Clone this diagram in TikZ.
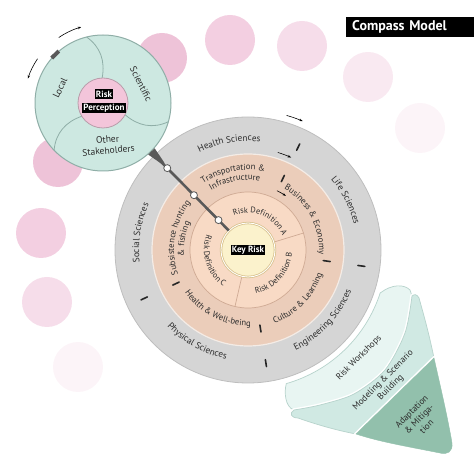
\documentclass[tikz,border=0pt]{standalone}
\usepackage{fontspec}
\setmainfont{PT Sans}
\setsansfont{PT Sans}
\usetikzlibrary{calc,arrows.meta,decorations.text}

\definecolor{pinkA}{HTML}{EEC3D8}
\definecolor{pinkB}{HTML}{F3CFE1}
\definecolor{pinkC}{HTML}{F6DDEA}
\definecolor{pinkD}{HTML}{F9E9F1}
\definecolor{pinkE}{HTML}{FCF4F8}
\definecolor{ringgray}{HTML}{D5D5D5}
\definecolor{ringedge}{HTML}{BEBEBE}
\definecolor{tanring}{HTML}{EBCDBA}
\definecolor{tanedge}{HTML}{F4ECE6}
\definecolor{innerring}{HTML}{F8DAC5}
\definecolor{inneredge}{HTML}{CFAA94}
\definecolor{keyfill}{HTML}{FBF2CC}
\definecolor{keyedge}{HTML}{D8C28E}
\definecolor{tealfill}{HTML}{CDE8E1}
\definecolor{tealedge}{HTML}{8FAEA7}
\definecolor{pinkin}{HTML}{F3C5DA}
\definecolor{pinkedge}{HTML}{B89DAA}
\definecolor{needlegray}{HTML}{595959}
\definecolor{labelgray}{HTML}{2C2C2C}
\definecolor{funnelA}{HTML}{E8F5F2}
\definecolor{funnelB}{HTML}{D0E9E3}
\definecolor{funnelC}{HTML}{92C0AC}
\definecolor{funneledge}{HTML}{B7D3CC}

\newcommand{\grayfont}{\fontsize{9.2}{10}\selectfont\color{labelgray}}
\newcommand{\tanfont}{\fontsize{8.7}{10}\selectfont\color{labelgray}}
\newcommand{\innerfont}{\fontsize{8.2}{9}\selectfont\color{labelgray}}
% ring text: #1 angle, #2 baseline radius, #3 half span, #4 font, #5 text
\newcommand{\ringtextout}[5]{\path[decorate,decoration={text along path,text align=center,text={|#4|#5}}]
  ($(kc)+(#1+#3:#2)$) arc[start angle=#1+#3,end angle=#1-#3,radius=#2];}
\newcommand{\ringtextin}[5]{\path[decorate,decoration={text along path,text align=center,text={|#4|#5}}]
  ($(kc)+(#1-#3:#2)$) arc[start angle=#1-#3,end angle=#1+#3,radius=#2];}

\begin{document}
\begin{tikzpicture}[x=1pt,y=1pt,
  bgdisc/.style={circle,inner sep=0pt,minimum size=50pt,fill=#1},
  blacklabel/.style={fill=black,text=white,inner sep=1.3pt,font=\bfseries\fontsize{9}{10}\selectfont},
  petaltext/.style={text=labelgray,font=\fontsize{9.5}{11}\selectfont,inner sep=0pt},
  petal/.style={draw=tealedge,line width=.8pt},
  ringtick/.style={line width=1.6pt,line cap=round,black!85},
  divline/.style={draw=inneredge,line width=.7pt},
  smallarrow/.style={line width=.6pt,-{Stealth[length=3.5pt,width=2.5pt]}},
  needle/.style={draw=needlegray,line width=2.6pt},
  needledot/.style={circle,fill=white,draw=needlegray,line width=.8pt,inner sep=0pt,minimum size=7pt},
  funneltext/.style={text=labelgray,font=\fontsize{9}{10.5}\selectfont,align=center,rotate=45,inner sep=0pt}]
\useasboundingbox (0,0) rectangle (474,474);

% background discs
\node[bgdisc=pinkA] (disc1) at (162,416) {};
\node[bgdisc=pinkA] (disc2) at (58,312) {};
\node[bgdisc=pinkB] (disc3) at (230,434) {};
\node[bgdisc=pinkC] (disc4) at (302,428) {};
\node[bgdisc=pinkD] (disc5) at (368,397) {};
\node[bgdisc=pinkE] (disc6) at (420,346) {};
\node[bgdisc=pinkB] (disc7) at (41,241) {};
\node[bgdisc=pinkC] (disc8) at (47,172) {};
\node[bgdisc=pinkE] (disc9) at (78,107) {};

\node[fill=black,text=white,font=\bfseries\fontsize{14}{16}\selectfont,anchor=north west,
  text width=116pt,inner xsep=6pt,minimum height=20pt] (title) at (346,457) {Compass Model};

% compass rings
\coordinate (kc) at (248,224);
\filldraw[fill=ringgray,draw=ringedge,line width=.8pt] (kc) circle (133);
\filldraw[fill=tanring,draw=tanedge,line width=1.2pt] (kc) circle (96);
\filldraw[fill=innerring,draw=inneredge,line width=.7pt] (kc) circle (58);
\node[circle,minimum size=54pt,fill=keyfill,draw=keyedge,line width=.8pt,
  double=white,double distance=.8pt] (keyrisk) at (kc) {};
\foreach \a in {17,257,134.6}
  \draw[divline] ($(kc)+(\a:28)$) -- ($(kc)+(\a:58)$);
\foreach \a in {64,-8,-81,205} {
  \draw[ringtick] ($(kc)+(\a:111)$) -- ($(kc)+(\a:118)$);
  \draw[ringtick] ($(kc)+(\a:76)$) -- ($(kc)+(\a:83)$);
}

\ringtextout{100}{109}{60}{\grayfont}{Health Sciences}
\ringtextout{27}{109}{60}{\grayfont}{Life Sciences}
\ringtextout{171}{109}{60}{\grayfont}{Social Sciences}
\ringtextin{-43}{111}{60}{\grayfont}{Engineering Sciences}
\ringtextin{-119}{111}{60}{\grayfont}{Physical Sciences}
\ringtextout{101}{80}{60}{\tanfont}{Transportation {\&}}
\ringtextout{101}{70}{60}{\tanfont}{Infrastructure}
\ringtextout{28}{71}{60}{\tanfont}{Business {\&} Economy}
\ringtextin{-44}{78}{60}{\tanfont}{Culture {\&} Learning}
\ringtextin{-117}{76}{60}{\tanfont}{Health {\&} Well-being}
\ringtextout{170}{74}{60}{\tanfont}{Subsistence hunting}
\ringtextout{170}{64}{60}{\tanfont}{{\&} fishing}
\ringtextout{67}{37}{80}{\innerfont}{Risk Definition A}
\ringtextin{-42}{44}{80}{\innerfont}{Risk Definition B}
\ringtextin{198}{44}{80}{\innerfont}{Risk Definition C}

\draw[smallarrow] ($(kc)+(74:140)$) arc[start angle=74,end angle=67,radius=140];
\draw[smallarrow] ($(kc)+(73:102)$) arc[start angle=73,end angle=65,radius=102];
\draw[smallarrow] ($(kc)+(64:66)$) arc[start angle=64,end angle=55,radius=66];

% risk perception circle
\node[circle,minimum size=136pt,fill=tealfill,draw=tealedge,line width=1pt] (perc) at (103,371) {};
\foreach \t [evaluate=\t as \tout using \t-139, evaluate=\t as \tin using \t-25,
             evaluate=\t as \tend using \t-12] in {104,-16,224}
  \draw[petal] ($(perc)+(\t:68)$) to[out=\tout,in=\tin] ($(perc)+(\tend:25)$);
\node[circle,minimum size=50pt,fill=pinkin,draw=pinkedge,line width=.8pt] (riskp) at (perc) {};
\node[blacklabel] (risklbl) at (104,380) {Risk};
\node[blacklabel] (perclbl) at (104,366) {Perception};
\node[petaltext,rotate=65] (local) at (60,386) {Local};
\node[petaltext,rotate=-63] (scientific) at (141,390) {Scientific};
\node[petaltext,rotate=5,align=center] (other) at (108,329) {Other\\Stakeholders};
\draw[smallarrow] ($(perc)+(124:79)$) arc[start angle=124,end angle=106,radius=79];
\draw[smallarrow] ($(perc)+(146:79)$) arc[start angle=146,end angle=162,radius=79];
\node[fill=needlegray,minimum width=10pt,minimum height=4pt,inner sep=0pt,rotate=44.6] (grip)
  at ($(perc)+(134.6:68)$) {};

% needle
\coordinate (nb) at (perc.-45.4);
\fill[needlegray] ($(nb)+(44.6:4.5)$) -- ($(nb)+(-135.4:4.5)$) -- ($(nb)+(-45.4:17)+(-135.4:1.3)$)
  -- ($(nb)+(-45.4:17)+(44.6:1.3)$) -- cycle;
\draw[needle] (perc) -- (keyrisk);
\foreach \r in {115,77,42}
  \node[needledot] (dot\r) at ($(kc)+(134.6:\r)$) {};
\node[blacklabel] (keylbl) at (kc) {Key Risk};

% funnel
\filldraw[fill=funnelA,draw=funneledge,line width=.7pt,preaction={draw=white,line width=3.5pt}]
  ($(kc)+(-74:139)$) arc[start angle=-74,end angle=-18,radius=139]
  .. controls (392,190) and (404,190) .. (410,184) -- (412,178)
  -- plot[smooth] coordinates {(412,178) (405,141) (385,104) (354,80) (320,69) (294,64)}
  .. controls (285,67) and (284,82) .. ($(kc)+(-74:139)$) -- cycle;
\filldraw[fill=funnelB,draw=funneledge,line width=.7pt,preaction={draw=white,line width=3.5pt}]
  (412,178) -- plot[smooth] coordinates {(412,178) (405,141) (385,104) (354,80) (320,69) (294,64)}
  .. controls (289,61) and (291,56) .. (298,56)
  .. controls (315,50) and (335,44) .. (356,40)
  -- (434,116)
  .. controls (428,145) and (422,165) .. (419,176)
  .. controls (417,180) and (414,180) .. (412,178) -- cycle;
\filldraw[fill=funnelC,draw=funnelC,preaction={draw=white,line width=3.5pt}]
  (356,40) -- (434,116)
  .. controls (441,85) and (448,55) .. (452,31)
  .. controls (453,22) and (447,19) .. (440,21)
  .. controls (410,27) and (380,32) .. (356,40) -- cycle;
\node[funneltext] (workshops) at (359,116) {Risk Workshops};
\node[funneltext] (modeling) at (387,90) {Modeling \& Scenario\\Building};
\node[funneltext] (adaptation) at (419,55) {Adaptation\\\& Mitiga-\\tion};
\end{tikzpicture}
\end{document}
